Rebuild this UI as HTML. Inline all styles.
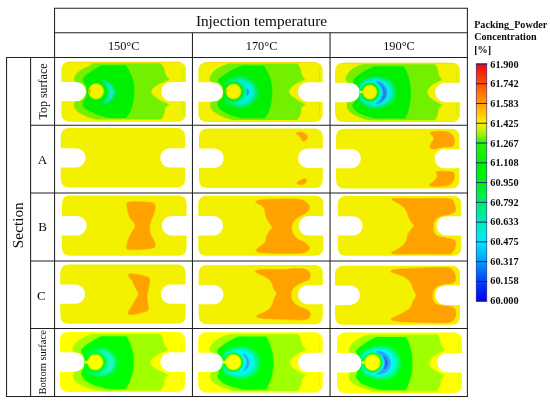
<!DOCTYPE html>
<html><head><meta charset="utf-8"><title>Packing powder concentration</title>
<style>
html,body{margin:0;padding:0;background:#fff;}
body{width:550px;height:404px;overflow:hidden;}
svg{display:block;}
text{font-family:"Liberation Serif","Times New Roman",serif;fill:#0a0a0a;}
.b{font-weight:bold;font-size:10.15px;}
</style></head><body>
<svg width="550" height="404" viewBox="0 0 550 404">
<defs>
<linearGradient id="cb" x1="0" y1="0" x2="0" y2="1">
<stop offset="0" stop-color="#f00808"/>
<stop offset="0.0833" stop-color="#ff5000"/>
<stop offset="0.1667" stop-color="#ffa000"/>
<stop offset="0.25" stop-color="#fff000"/>
<stop offset="0.29" stop-color="#b0f200"/>
<stop offset="0.3333" stop-color="#30f000"/>
<stop offset="0.4167" stop-color="#00f000"/>
<stop offset="0.5" stop-color="#00f010"/>
<stop offset="0.5833" stop-color="#00ee60"/>
<stop offset="0.6667" stop-color="#00ecb4"/>
<stop offset="0.75" stop-color="#00e8f8"/>
<stop offset="0.8333" stop-color="#00a0f8"/>
<stop offset="0.9167" stop-color="#0040f8"/>
<stop offset="1" stop-color="#0000f0"/>
</linearGradient>
<filter id="hb" x="-30%" y="-30%" width="160%" height="160%"><feGaussianBlur stdDeviation="1.5"/></filter>
<filter id="mb" x="-30%" y="-30%" width="160%" height="160%"><feGaussianBlur stdDeviation="1.0"/></filter>

<clipPath id="c11"><path d="M69.8,61.8 H177.5 Q186.0,61.8 186.0,70.3 V81.95 H170.89999999999998 A9.700000000000003,9.700000000000003 0 0 0 170.89999999999998,101.35000000000001 H186.0 V113.0 Q186.0,121.5 177.5,121.5 H69.8 Q61.3,121.5 61.3,113.0 V101.35000000000001 H76.39999999999999 A9.700000000000003,9.700000000000003 0 0 0 76.39999999999999,81.95 H61.3 V70.3 Q61.3,61.8 69.8,61.8Z"/></clipPath>
<clipPath id="l11"><rect x="56.3" y="63.20" width="134.70" height="56.40"/></clipPath>
<clipPath id="g11"><rect x="56.3" y="65.20" width="134.70" height="52.70" rx="3"/></clipPath>
<clipPath id="c12"><path d="M206.9,62.2 H314.2 Q322.7,62.2 322.7,70.7 V82.3 H307.59999999999997 A9.700000000000003,9.700000000000003 0 0 0 307.59999999999997,101.7 H322.7 V113.3 Q322.7,121.8 314.2,121.8 H206.9 Q198.4,121.8 198.4,113.3 V101.7 H213.5 A9.700000000000003,9.700000000000003 0 0 0 213.5,82.3 H198.4 V70.7 Q198.4,62.2 206.9,62.2Z"/></clipPath>
<clipPath id="l12"><rect x="193.4" y="63.60" width="134.30" height="56.30"/></clipPath>
<clipPath id="g12"><rect x="193.4" y="65.60" width="134.30" height="52.60" rx="3"/></clipPath>
<clipPath id="c13"><path d="M343.6,62.8 H451.6 Q460.1,62.8 460.1,71.3 V82.74999999999999 H445.0 A9.700000000000003,9.700000000000003 0 0 0 445.0,102.14999999999999 H460.1 V113.6 Q460.1,122.1 451.6,122.1 H343.6 Q335.1,122.1 335.1,113.6 V102.14999999999999 H350.20000000000005 A9.700000000000003,9.700000000000003 0 0 0 350.20000000000005,82.74999999999999 H335.1 V71.3 Q335.1,62.8 343.6,62.8Z"/></clipPath>
<clipPath id="l13"><rect x="330.1" y="64.20" width="135.00" height="56.00"/></clipPath>
<clipPath id="g13"><rect x="330.1" y="66.20" width="135.00" height="52.30" rx="3"/></clipPath>
<clipPath id="c51"><path d="M68.4,331.9 H176.6 Q185.1,331.9 185.1,340.4 V352.3 H169.99999999999997 A9.699999999999989,9.699999999999989 0 0 0 169.99999999999997,371.7 H185.1 V383.6 Q185.1,392.1 176.6,392.1 H68.4 Q59.9,392.1 59.9,383.6 V371.7 H75.00000000000001 A9.699999999999989,9.699999999999989 0 0 0 75.00000000000001,352.3 H59.9 V340.4 Q59.9,331.9 68.4,331.9Z"/></clipPath>
<clipPath id="l51"><rect x="54.9" y="333.90" width="135.20" height="56.60"/></clipPath>
<clipPath id="g51"><rect x="54.9" y="336.30" width="135.20" height="53.00" rx="3"/></clipPath>
<clipPath id="c52"><path d="M206.7,332.2 H314.3 Q322.8,332.2 322.8,340.7 V352.65000000000003 H307.7 A9.699999999999989,9.699999999999989 0 0 0 307.7,372.05 H322.8 V384.0 Q322.8,392.5 314.3,392.5 H206.7 Q198.2,392.5 198.2,384.0 V372.05 H213.3 A9.699999999999989,9.699999999999989 0 0 0 213.3,352.65000000000003 H198.2 V340.7 Q198.2,332.2 206.7,332.2Z"/></clipPath>
<clipPath id="l52"><rect x="193.2" y="334.20" width="134.60" height="56.70"/></clipPath>
<clipPath id="g52"><rect x="193.2" y="336.60" width="134.60" height="53.10" rx="3"/></clipPath>
<clipPath id="c53"><path d="M345.5,332.6 H453.4 Q461.9,332.6 461.9,341.1 V353.1 H446.79999999999995 A9.699999999999989,9.699999999999989 0 0 0 446.79999999999995,372.5 H461.9 V384.5 Q461.9,393.0 453.4,393.0 H345.5 Q337.0,393.0 337.0,384.5 V372.5 H352.1 A9.699999999999989,9.699999999999989 0 0 0 352.1,353.1 H337.0 V341.1 Q337.0,332.6 345.5,332.6Z"/></clipPath>
<clipPath id="l53"><rect x="332.0" y="334.60" width="134.90" height="56.80"/></clipPath>
<clipPath id="g53"><rect x="332.0" y="337.00" width="134.90" height="53.20" rx="3"/></clipPath>
<clipPath id="c21"><path d="M69.3,128.1 H176.5 Q185.0,128.1 185.0,136.6 V148.15 H169.89999999999998 A9.699999999999989,9.699999999999989 0 0 0 169.89999999999998,167.54999999999998 H185.0 V179.1 Q185.0,187.6 176.5,187.6 H69.3 Q60.8,187.6 60.8,179.1 V167.54999999999998 H75.9 A9.699999999999989,9.699999999999989 0 0 0 75.9,148.15 H60.8 V136.6 Q60.8,128.1 69.3,128.1Z"/></clipPath>
<clipPath id="c22"><path d="M207.5,128.4 H314.3 Q322.8,128.4 322.8,136.9 V148.5 H307.7 A9.699999999999989,9.699999999999989 0 0 0 307.7,167.89999999999998 H322.8 V179.5 Q322.8,188.0 314.3,188.0 H207.5 Q199.0,188.0 199.0,179.5 V167.89999999999998 H214.10000000000002 A9.699999999999989,9.699999999999989 0 0 0 214.10000000000002,148.5 H199.0 V136.9 Q199.0,128.4 207.5,128.4Z"/></clipPath>
<clipPath id="c23"><path d="M344.6,128.8 H451.0 Q459.5,128.8 459.5,137.3 V148.90000000000003 H444.4 A9.699999999999989,9.699999999999989 0 0 0 444.4,168.3 H459.5 V179.9 Q459.5,188.4 451.0,188.4 H344.6 Q336.1,188.4 336.1,179.9 V168.3 H351.20000000000005 A9.699999999999989,9.699999999999989 0 0 0 351.20000000000005,148.90000000000003 H336.1 V137.3 Q336.1,128.8 344.6,128.8Z"/></clipPath>
<clipPath id="c31"><path d="M70.4,195.6 H178.1 Q186.6,195.6 186.6,204.1 V216.0 H171.49999999999997 A9.699999999999989,9.699999999999989 0 0 0 171.49999999999997,235.39999999999998 H186.6 V247.3 Q186.6,255.8 178.1,255.8 H70.4 Q61.9,255.8 61.9,247.3 V235.39999999999998 H77.00000000000001 A9.699999999999989,9.699999999999989 0 0 0 77.00000000000001,216.0 H61.9 V204.1 Q61.9,195.6 70.4,195.6Z"/></clipPath>
<clipPath id="c32"><path d="M206.8,195.8 H314.9 Q323.4,195.8 323.4,204.3 V216.10000000000002 H308.29999999999995 A9.699999999999989,9.699999999999989 0 0 0 308.29999999999995,235.5 H323.4 V247.3 Q323.4,255.8 314.9,255.8 H206.8 Q198.3,255.8 198.3,247.3 V235.5 H213.40000000000003 A9.699999999999989,9.699999999999989 0 0 0 213.40000000000003,216.10000000000002 H198.3 V204.3 Q198.3,195.8 206.8,195.8Z"/></clipPath>
<clipPath id="c33"><path d="M346.3,196.1 H452.8 Q461.3,196.1 461.3,204.6 V216.2 H446.2 A9.699999999999989,9.699999999999989 0 0 0 446.2,235.59999999999997 H461.3 V247.2 Q461.3,255.7 452.8,255.7 H346.3 Q337.8,255.7 337.8,247.2 V235.59999999999997 H352.90000000000003 A9.699999999999989,9.699999999999989 0 0 0 352.90000000000003,216.2 H337.8 V204.6 Q337.8,196.1 346.3,196.1Z"/></clipPath>
<clipPath id="c41"><path d="M68.8,264.4 H177.1 Q185.6,264.4 185.6,272.9 V284.40000000000003 H170.49999999999997 A9.699999999999989,9.699999999999989 0 0 0 170.49999999999997,303.8 H185.6 V315.3 Q185.6,323.8 177.1,323.8 H68.8 Q60.3,323.8 60.3,315.3 V303.8 H75.4 A9.699999999999989,9.699999999999989 0 0 0 75.4,284.40000000000003 H60.3 V272.9 Q60.3,264.4 68.8,264.4Z"/></clipPath>
<clipPath id="c42"><path d="M207.2,265.0 H314.3 Q322.8,265.0 322.8,273.5 V284.90000000000003 H307.7 A9.699999999999989,9.699999999999989 0 0 0 307.7,304.3 H322.8 V315.7 Q322.8,324.2 314.3,324.2 H207.2 Q198.7,324.2 198.7,315.7 V304.3 H213.8 A9.699999999999989,9.699999999999989 0 0 0 213.8,284.90000000000003 H198.7 V273.5 Q198.7,265.0 207.2,265.0Z"/></clipPath>
<clipPath id="c43"><path d="M343.6,265.7 H451.5 Q460.0,265.7 460.0,274.2 V285.5 H444.9 A9.699999999999989,9.699999999999989 0 0 0 444.9,304.9 H460.0 V316.2 Q460.0,324.7 451.5,324.7 H343.6 Q335.1,324.7 335.1,316.2 V304.9 H350.20000000000005 A9.699999999999989,9.699999999999989 0 0 0 350.20000000000005,285.5 H335.1 V274.2 Q335.1,265.7 343.6,265.7Z"/></clipPath>
</defs>
<rect width="550" height="404" fill="#fff"/>
<g clip-path="url(#c11)">
<g>
<rect x="58.3" y="58.8" width="130.7" height="65.7" fill="#f3f000"/>
<path d="M99.4,60.0 C88.0,60.9 93.5,63.8 90.7,65.4 C87.9,66.9 85.0,67.8 82.7,69.2 C80.4,70.6 78.2,72.3 76.9,73.8 C75.5,75.3 74.8,76.9 74.6,78.4 C74.3,80.0 75.2,79.3 75.3,83.0 C75.5,86.7 75.6,97.0 75.3,100.7 C75.1,104.4 74.0,103.7 74.1,105.3 C74.2,106.8 74.9,108.5 76.1,109.9 C77.4,111.3 79.5,112.5 81.6,113.7 C83.7,114.9 86.0,116.0 88.7,117.1 C91.4,118.2 96.0,119.2 97.6,120.2 C99.2,121.1 88.0,122.5 98.4,122.9 C108.8,123.4 149.7,123.4 160.1,122.9 C170.4,122.5 159.9,121.2 160.4,120.2 C160.8,119.1 162.0,118.1 162.7,116.8 C163.3,115.5 163.8,113.7 164.2,112.2 C164.6,110.6 164.3,108.8 165.0,107.6 C165.7,106.3 167.9,105.2 168.5,104.7 C169.1,104.1 169.9,105.0 168.5,104.4 C167.1,103.7 162.9,102.1 160.4,100.7 C157.9,99.3 155.0,97.5 153.5,96.1 C151.9,94.7 151.4,93.4 151.2,92.2 C150.9,91.1 150.9,90.4 151.9,89.2 C152.9,87.9 154.9,86.0 157.3,84.6 C159.7,83.1 164.6,81.6 166.5,80.7 C168.4,79.8 168.4,79.6 168.8,79.3 C169.2,79.1 169.3,79.7 168.8,79.0 C168.3,78.4 166.6,77.2 165.7,75.3 C164.8,73.5 164.5,69.8 163.4,67.7 C162.4,65.5 160.3,63.6 159.6,62.3 C158.9,61.0 169.3,60.4 159.3,60.0 C149.3,59.6 110.9,59.1 99.4,60.0Z" fill="#73f000" stroke="#73f000" stroke-opacity="0.5" stroke-width="1.3" clip-path="url(#l11)"/>
<path d="M108.8,60.0 C106.3,60.4 108.9,61.2 107.3,62.3 C105.6,63.5 101.6,65.4 99.0,66.9 C96.4,68.4 93.9,70.0 91.6,71.5 C89.3,73.0 86.8,74.7 85.3,76.1 C83.9,77.5 83.1,78.8 83.0,80.0 C82.9,81.1 83.9,81.9 84.6,83.0 C85.2,84.2 86.5,84.6 86.9,86.9 C87.2,89.2 87.4,94.4 86.9,96.8 C86.3,99.3 84.4,100.2 83.8,101.4 C83.1,102.7 82.8,103.4 83.0,104.5 C83.3,105.7 83.7,107.1 85.3,108.3 C86.9,109.6 89.7,110.9 92.5,112.2 C95.3,113.5 98.5,114.9 102.1,116.0 C105.6,117.2 110.6,117.9 113.7,119.1 C116.8,120.2 120.0,122.3 120.6,122.9 C121.2,123.6 117.2,123.4 117.4,122.9 C117.6,122.5 120.7,120.9 122.0,120.2 C123.3,119.4 123.8,119.6 125.1,118.3 C126.3,117.0 128.4,114.7 129.7,112.2 C131.0,109.6 132.0,106.3 132.7,103.0 C133.5,99.6 133.8,95.6 134.0,92.2 C134.1,88.9 134.2,86.3 133.5,83.0 C132.8,79.7 131.3,75.7 129.7,72.3 C128.0,68.8 124.8,64.3 123.5,62.3 C122.3,60.3 124.5,60.4 122.0,60.0 C119.5,59.6 111.3,59.6 108.8,60.0Z" fill="#00f000" stroke="#00f000" stroke-opacity="0.5" stroke-width="1.3" clip-path="url(#g11)"/>
<path d="M101.2,80.4 C101.8,80.1 105.3,80.7 107.2,81.5 C109.0,82.4 111.0,83.9 112.3,85.3 C113.7,86.8 114.8,88.8 115.3,90.3 C115.7,91.8 115.7,92.9 115.3,94.4 C114.8,95.9 113.9,97.7 112.7,99.1 C111.5,100.6 110.0,102.0 108.1,102.9 C106.3,103.8 102.4,104.7 101.8,104.5 C101.1,104.3 103.4,102.7 104.2,101.7 C105.1,100.8 106.1,99.8 106.7,98.6 C107.3,97.4 107.6,96.0 107.8,94.6 C108.0,93.2 108.1,91.7 107.8,90.3 C107.5,88.8 106.9,87.1 106.2,85.9 C105.5,84.7 104.4,83.9 103.6,83.0 C102.8,82.0 100.6,80.6 101.2,80.4Z" fill="#00e68e" filter="url(#mb)"/>
<path d="M103.6,81.7 C103.9,81.5 106.6,82.5 108.0,83.3 C109.3,84.1 110.8,85.5 111.8,86.7 C112.7,87.9 113.4,89.4 113.7,90.7 C114.0,91.9 114.0,92.8 113.7,94.1 C113.3,95.3 112.6,97.1 111.5,98.3 C110.5,99.6 108.8,100.7 107.6,101.5 C106.3,102.3 104.2,103.2 104.0,102.9 C103.8,102.6 105.6,100.9 106.4,99.8 C107.1,98.6 108.0,97.5 108.4,96.2 C108.9,94.9 109.1,93.6 109.1,92.2 C109.1,90.9 108.9,89.5 108.4,88.3 C108.0,87.0 107.2,85.8 106.4,84.7 C105.6,83.6 103.3,81.9 103.6,81.7Z" fill="#14f0b4" filter="url(#mb)"/>
<path d="M88.30,91.30 a7.80,7.90 0 1 0 15.60,0 a7.80,7.90 0 1 0 -15.60,0Z" fill="#73f000" stroke="#73f000" stroke-opacity="0.5" stroke-width="1.3"/>
<path d="M89.00,91.30 a7.10,7.20 0 1 0 14.20,0 a7.10,7.20 0 1 0 -14.20,0Z" fill="#f3f000" stroke="#f3f000" stroke-opacity="0.5" stroke-width="1.3"/>
<path d="M89.00,91.10 a0.60,1.50 0 1 0 1.20,0 a0.60,1.50 0 1 0 -1.20,0Z" fill="#f09a00" stroke="#f09a00" stroke-opacity="0.5" stroke-width="1.3"/>
<rect x="182.40" y="68.80" width="0.7" height="45.70" fill="#73f000" opacity="0.45"/>
<rect x="67.3" y="61.50" width="112.70" height="0.9" fill="#ffc400"/>
<rect x="67.3" y="121.00" width="112.70" height="0.8" fill="#ffd800"/>
</g></g>
<g clip-path="url(#c12)">
<g>
<rect x="195.4" y="59.2" width="130.29999999999998" height="65.6" fill="#f3f000"/>
<path d="M234.1,60.0 C223.6,60.4 234.8,61.3 233.1,62.3 C231.3,63.3 226.4,64.6 223.6,65.8 C220.7,67.0 218.2,68.1 216.2,69.5 C214.2,71.0 212.6,73.0 211.6,74.6 C210.6,76.2 210.0,77.8 210.0,79.2 C210.0,80.6 211.3,79.4 211.6,83.0 C211.8,86.6 211.8,97.0 211.6,100.7 C211.4,104.4 210.4,103.7 210.5,105.3 C210.6,106.8 211.1,108.4 212.3,109.9 C213.6,111.3 215.6,112.7 217.9,114.0 C220.1,115.3 223.2,116.5 225.7,117.6 C228.2,118.6 231.7,119.3 233.1,120.2 C234.4,121.1 223.3,122.5 233.8,122.9 C244.4,123.4 285.8,123.4 296.3,122.9 C306.8,122.5 296.1,121.2 296.6,120.2 C297.1,119.1 298.5,118.1 299.2,116.8 C299.9,115.5 300.4,113.7 300.7,112.2 C301.1,110.6 300.6,108.8 301.2,107.6 C301.8,106.3 304.0,105.2 304.6,104.7 C305.1,104.1 305.8,105.1 304.6,104.4 C303.4,103.6 299.6,101.6 297.4,100.2 C295.1,98.8 292.6,97.4 291.2,96.1 C289.8,94.7 289.2,93.4 288.9,92.2 C288.7,91.1 288.7,90.6 289.7,89.2 C290.7,87.8 293.0,85.2 295.1,83.8 C297.1,82.4 300.4,81.5 302.0,80.7 C303.6,80.0 304.1,79.6 304.6,79.3 C305.0,79.1 305.1,79.7 304.6,79.0 C304.1,78.4 302.5,77.2 301.7,75.3 C300.8,73.5 300.5,69.8 299.7,67.7 C298.8,65.5 297.2,63.6 296.6,62.3 C296.0,61.0 306.7,60.4 296.3,60.0 C285.9,59.6 244.7,59.6 234.1,60.0Z" fill="#73f000" stroke="#73f000" stroke-opacity="0.5" stroke-width="1.3" clip-path="url(#l12)"/>
<path d="M251.9,60.0 C250.3,60.4 252.3,61.2 250.4,62.3 C248.5,63.4 243.8,65.0 240.6,66.4 C237.3,67.9 233.8,69.4 230.9,71.0 C228.0,72.7 225.2,74.6 223.1,76.1 C221.0,77.6 219.0,78.8 218.5,80.0 C218.0,81.1 219.3,81.9 220.0,83.0 C220.8,84.2 222.6,84.6 223.1,86.9 C223.6,89.2 223.7,94.5 223.1,96.8 C222.5,99.2 220.1,99.9 219.3,101.1 C218.4,102.4 217.6,103.2 217.7,104.5 C217.8,105.8 218.6,107.4 220.0,108.8 C221.4,110.2 223.6,111.7 226.2,112.9 C228.8,114.2 232.2,115.5 235.7,116.5 C239.1,117.5 243.4,118.5 246.7,119.1 C250.0,119.7 253.6,119.5 255.3,120.2 C257.0,120.8 256.5,122.5 256.9,122.9 C257.2,123.4 256.6,123.4 257.5,122.9 C258.3,122.5 260.9,120.9 262.1,120.2 C263.2,119.4 263.3,119.6 264.4,118.3 C265.4,117.0 267.1,114.7 268.2,112.2 C269.3,109.6 270.3,106.2 271.0,103.0 C271.6,99.8 272.0,96.3 272.0,93.0 C272.1,89.7 272.0,86.5 271.3,83.0 C270.5,79.6 269.1,75.7 267.4,72.3 C265.8,68.8 262.5,64.3 261.3,62.3 C260.2,60.3 262.1,60.4 260.5,60.0 C259.0,59.6 253.6,59.6 251.9,60.0Z" fill="#00f000" stroke="#00f000" stroke-opacity="0.5" stroke-width="1.3" clip-path="url(#g12)"/>
<path d="M225.9,83.4 C226.8,79.8 229.3,80.2 231.4,79.2 C233.4,78.1 235.8,77.2 238.2,77.0 C240.6,76.8 243.4,77.0 245.8,77.9 C248.2,78.7 250.8,80.5 252.6,82.1 C254.4,83.8 255.9,86.0 256.8,87.6 C257.8,89.3 258.1,90.3 258.1,91.9 C258.1,93.4 257.7,95.3 256.8,97.0 C256.0,98.7 254.7,100.6 253.0,102.1 C251.3,103.6 249.0,105.0 246.7,105.9 C244.3,106.7 241.6,107.4 239.0,107.2 C236.5,106.9 233.6,105.7 231.4,104.6 C229.2,103.6 226.8,104.3 225.9,100.8 C224.9,97.3 224.9,87.0 225.9,83.4Z" fill="#00ec8c" filter="url(#hb)"/>
<path d="M236.8,80.2 C237.2,79.8 241.0,79.9 243.0,80.5 C245.0,81.0 247.3,82.1 248.9,83.5 C250.5,84.8 251.9,87.1 252.7,88.6 C253.5,90.0 253.6,90.9 253.5,92.3 C253.5,93.7 253.1,95.5 252.3,97.0 C251.5,98.5 250.1,100.0 248.5,101.1 C247.0,102.2 244.9,103.2 243.0,103.7 C241.0,104.2 237.1,104.6 236.8,104.1 C236.5,103.6 239.6,101.7 240.9,100.6 C242.2,99.6 243.7,98.8 244.6,97.8 C245.6,96.8 246.1,95.7 246.4,94.6 C246.8,93.5 246.8,92.5 246.8,91.5 C246.7,90.4 246.5,89.2 246.0,88.2 C245.5,87.1 244.7,86.0 243.8,85.1 C242.9,84.2 241.8,83.8 240.7,83.0 C239.5,82.1 236.4,80.6 236.8,80.2Z" fill="#00f0e6" filter="url(#mb)"/>
<path d="M247.2,89.3 C247.4,89.3 248.0,90.2 248.2,90.7 C248.5,91.2 248.6,91.7 248.6,92.3 C248.6,92.8 248.5,93.4 248.2,93.9 C248.0,94.4 247.4,95.3 247.2,95.3 C247.1,95.3 247.4,94.4 247.5,93.9 C247.5,93.4 247.6,92.8 247.6,92.3 C247.6,91.7 247.5,91.2 247.5,90.7 C247.4,90.2 247.1,89.3 247.2,89.3Z" fill="#2488ee" stroke="#2488ee" stroke-opacity="0.5" stroke-width="1.3"/>
<path d="M224.10,91.50 a9.40,9.50 0 1 0 18.80,0 a9.40,9.50 0 1 0 -18.80,0Z" fill="#00f000" stroke="#00f000" stroke-opacity="0.5" stroke-width="1.3"/>
<path d="M225.80,91.50 a7.70,7.80 0 1 0 15.40,0 a7.70,7.80 0 1 0 -15.40,0Z" fill="#73f000" stroke="#73f000" stroke-opacity="0.5" stroke-width="1.3"/>
<path d="M226.50,91.50 a7.00,7.10 0 1 0 14.00,0 a7.00,7.10 0 1 0 -14.00,0Z" fill="#f3f000" stroke="#f3f000" stroke-opacity="0.5" stroke-width="1.3"/>
<path d="M226.00,91.30 a0.60,1.50 0 1 0 1.20,0 a0.60,1.50 0 1 0 -1.20,0Z" fill="#f0b400" stroke="#f0b400" stroke-opacity="0.5" stroke-width="1.3"/>
<rect x="319.10" y="69.20" width="0.7" height="45.60" fill="#73f000" opacity="0.45"/>
<rect x="204.4" y="61.90" width="112.30" height="0.9" fill="#ffc400"/>
<rect x="204.4" y="121.30" width="112.30" height="0.8" fill="#ffd800"/>
</g></g>
<g clip-path="url(#c13)">
<g>
<rect x="332.1" y="59.8" width="131.0" height="65.3" fill="#f3f000"/>
<path d="M368.8,60.0 C357.9,60.5 369.5,61.7 367.8,62.8 C366.0,63.8 361.1,64.9 358.2,66.1 C355.4,67.4 352.7,68.9 350.9,70.4 C349.0,72.0 347.9,73.8 347.0,75.3 C346.2,76.9 345.8,78.7 346.0,80.0 C346.1,81.2 347.5,79.5 347.8,83.0 C348.1,86.6 347.9,97.3 347.8,101.1 C347.7,105.0 346.8,104.5 347.0,106.0 C347.2,107.6 347.9,109.2 349.0,110.6 C350.2,112.1 352.0,113.3 354.1,114.5 C356.3,115.7 359.5,117.1 361.9,118.0 C364.3,119.0 367.3,119.3 368.5,120.2 C369.8,121.0 358.4,122.5 369.3,122.9 C380.2,123.4 423.0,123.3 433.8,122.9 C444.5,122.5 433.7,121.5 434.1,120.6 C434.5,119.7 435.6,118.8 436.2,117.6 C436.8,116.3 437.3,114.5 437.7,112.9 C438.2,111.4 438.0,109.6 438.7,108.3 C439.3,107.1 441.1,106.0 441.6,105.4 C442.1,104.9 442.8,105.8 441.6,105.1 C440.4,104.4 436.5,102.5 434.4,101.1 C432.3,99.7 430.2,98.2 429.0,96.8 C427.8,95.5 427.4,94.1 427.2,93.0 C426.9,91.8 426.6,91.3 427.5,89.9 C428.3,88.5 430.3,86.0 432.1,84.6 C433.9,83.1 436.6,82.3 438.2,81.5 C439.8,80.7 441.0,80.1 441.6,79.8 C442.1,79.5 442.1,80.2 441.6,79.5 C441.1,78.7 439.4,77.2 438.7,75.3 C437.9,73.5 438.0,70.5 437.1,68.4 C436.3,66.3 434.2,64.2 433.6,62.8 C433.0,61.4 444.1,60.5 433.3,60.0 C422.5,59.5 379.8,59.5 368.8,60.0Z" fill="#73f000" stroke="#73f000" stroke-opacity="0.5" stroke-width="1.3" clip-path="url(#l13)"/>
<path d="M384.3,60.0 C381.5,60.5 384.4,61.7 382.8,62.8 C381.2,63.8 377.4,65.1 374.5,66.4 C371.7,67.8 368.3,69.3 365.6,70.7 C363.0,72.2 360.5,73.9 358.6,75.3 C356.6,76.8 354.8,78.4 354.0,79.6 C353.1,80.9 353.5,79.4 353.6,83.0 C353.8,86.6 354.9,97.4 354.7,101.1 C354.5,104.8 352.4,103.9 352.4,105.3 C352.4,106.7 353.4,108.1 354.7,109.4 C356.0,110.8 357.6,112.2 360.1,113.4 C362.6,114.6 366.2,115.8 369.6,116.8 C373.0,117.8 377.6,118.9 380.7,119.5 C383.7,120.2 386.3,120.1 387.7,120.6 C389.1,121.2 386.8,122.5 389.2,122.9 C391.7,123.3 399.8,123.3 402.1,122.9 C404.5,122.5 403.0,121.3 403.4,120.6 C403.8,120.0 403.8,120.5 404.4,119.1 C405.1,117.7 406.6,114.9 407.5,112.2 C408.4,109.5 409.3,106.3 409.8,103.0 C410.3,99.6 410.6,95.8 410.6,92.2 C410.5,88.6 410.3,85.1 409.5,81.5 C408.7,77.9 407.5,73.9 406.0,70.7 C404.5,67.6 401.6,64.6 400.6,62.8 C399.6,61.0 402.5,60.5 399.8,60.0 C397.1,59.5 387.2,59.5 384.3,60.0Z" fill="#00f000" stroke="#00f000" stroke-opacity="0.5" stroke-width="1.3" clip-path="url(#g13)"/>
<path d="M360.1,84.6 C361.1,81.4 363.3,80.8 365.6,79.5 C368.0,78.3 371.2,77.3 374.1,77.0 C377.1,76.7 380.6,77.0 383.4,77.8 C386.3,78.7 389.2,80.3 391.1,82.1 C393.0,83.8 394.2,86.4 394.9,88.4 C395.6,90.5 395.7,92.2 395.3,94.4 C394.9,96.5 393.9,99.2 392.3,101.1 C390.8,103.1 388.5,104.7 386.0,105.8 C383.5,106.9 380.3,107.7 377.5,107.9 C374.7,108.1 371.6,107.9 369.0,107.1 C366.5,106.2 363.8,104.3 362.3,102.8 C360.7,101.4 360.1,101.6 359.7,98.6 C359.4,95.6 359.1,87.8 360.1,84.6Z" fill="#00ec8c" filter="url(#hb)"/>
<path d="M361.5,85.4 C362.4,82.7 364.5,82.2 366.6,81.1 C368.7,80.1 371.4,79.3 374.0,79.1 C376.6,78.9 379.8,79.1 382.2,79.9 C384.7,80.7 387.2,82.4 388.8,84.0 C390.4,85.6 391.2,87.5 391.7,89.4 C392.2,91.2 392.2,93.3 391.7,95.1 C391.2,97.0 390.3,99.0 388.8,100.5 C387.4,102.0 385.3,103.3 383.1,104.2 C380.9,105.1 378.0,105.8 375.6,105.8 C373.3,105.9 371.1,105.4 369.1,104.6 C367.0,103.8 364.6,102.1 363.3,100.9 C361.9,99.7 361.3,100.2 361.0,97.6 C360.7,95.0 360.5,88.2 361.5,85.4Z" fill="#00f0e6" filter="url(#mb)"/>
<path d="M376.1,81.2 C376.3,81.1 379.4,82.1 381.0,83.1 C382.5,84.2 384.3,85.9 385.3,87.5 C386.3,89.1 386.8,90.9 386.9,92.6 C387.0,94.3 386.6,96.3 385.7,97.8 C384.9,99.3 383.3,100.7 381.8,101.7 C380.2,102.8 376.8,104.0 376.4,103.9 C376.0,103.7 378.4,102.0 379.4,101.0 C380.3,99.9 381.4,98.7 382.0,97.4 C382.6,96.1 383.0,94.6 383.0,93.0 C383.0,91.4 382.6,89.4 382.0,87.9 C381.4,86.4 380.4,85.2 379.4,84.1 C378.4,83.0 375.8,81.4 376.1,81.2Z" fill="#2896ee" stroke="#2896ee" stroke-opacity="0.5" stroke-width="1.3"/>
<path d="M380.6,84.7 C380.7,84.7 383.0,87.0 383.7,88.3 C384.5,89.6 385.1,91.2 385.2,92.6 C385.2,94.1 384.9,95.6 384.2,97.0 C383.5,98.3 381.1,100.7 380.8,100.7 C380.6,100.8 382.2,98.5 382.7,97.2 C383.2,95.9 383.8,94.5 383.8,93.0 C383.8,91.5 383.4,89.7 382.9,88.3 C382.3,86.9 380.4,84.7 380.6,84.7Z" fill="#2280ec" stroke="#2280ec" stroke-opacity="0.5" stroke-width="1.3"/>
<path d="M361.00,92.10 a8.90,9.00 0 1 0 17.80,0 a8.90,9.00 0 1 0 -17.80,0Z" fill="#00f000" stroke="#00f000" stroke-opacity="0.5" stroke-width="1.3"/>
<path d="M362.70,92.10 a7.20,7.30 0 1 0 14.40,0 a7.20,7.30 0 1 0 -14.40,0Z" fill="#73f000" stroke="#73f000" stroke-opacity="0.5" stroke-width="1.3"/>
<path d="M363.40,92.10 a6.50,6.60 0 1 0 13.00,0 a6.50,6.60 0 1 0 -13.00,0Z" fill="#f3f000" stroke="#f3f000" stroke-opacity="0.5" stroke-width="1.3"/>
<path d="M359.00,92.10 a2.60,1.00 0 1 0 5.20,0 a2.60,1.00 0 1 0 -5.20,0Z" fill="#f3f000" stroke="#f3f000" stroke-opacity="0.5" stroke-width="1.3"/>
<rect x="456.50" y="69.80" width="0.7" height="45.30" fill="#73f000" opacity="0.45"/>
<rect x="341.1" y="62.50" width="113.00" height="0.9" fill="#ffc400"/>
<rect x="341.1" y="121.60" width="113.00" height="0.8" fill="#ffd800"/>
</g></g>
<g clip-path="url(#c51)">
<g>
<rect x="56.9" y="328.9" width="131.2" height="66.20000000000005" fill="#ffff00"/>
<path d="M96.9,330.0 C86.4,330.5 97.6,331.7 95.8,332.8 C94.1,333.8 89.1,335.2 86.3,336.4 C83.5,337.7 80.9,339.0 79.0,340.4 C77.0,341.9 75.4,343.8 74.3,345.3 C73.3,346.9 72.8,348.7 72.8,350.0 C72.8,351.2 74.1,349.5 74.3,353.0 C74.6,356.6 74.6,367.3 74.3,371.1 C74.1,375.0 73.0,374.5 73.1,376.0 C73.2,377.6 73.9,379.2 75.1,380.6 C76.4,382.1 78.4,383.3 80.6,384.5 C82.9,385.7 85.9,387.1 88.5,388.0 C91.0,389.0 94.5,389.3 95.8,390.2 C97.2,391.0 86.0,392.5 96.6,392.9 C107.2,393.4 149.1,393.3 159.7,392.9 C170.3,392.5 159.7,391.5 160.1,390.6 C160.5,389.7 161.5,388.8 162.1,387.6 C162.7,386.3 163.3,384.6 163.7,382.9 C164.0,381.3 163.6,379.2 164.3,377.9 C164.9,376.6 167.1,375.5 167.7,375.0 C168.2,374.4 169.0,375.3 167.7,374.7 C166.3,374.0 161.9,372.4 159.4,371.1 C156.8,369.8 154.0,368.2 152.5,366.8 C150.9,365.5 150.4,364.1 150.2,363.0 C149.9,361.8 149.8,361.3 150.9,359.9 C152.1,358.5 154.8,356.0 157.1,354.6 C159.4,353.1 163.0,352.0 164.7,351.2 C166.5,350.4 167.2,350.1 167.7,349.8 C168.1,349.5 168.2,350.2 167.7,349.5 C167.1,348.7 165.1,347.2 164.3,345.3 C163.4,343.5 163.3,340.5 162.4,338.4 C161.6,336.3 159.9,334.2 159.4,332.8 C158.8,331.4 169.5,330.5 159.1,330.0 C148.7,329.5 107.4,329.5 96.9,330.0Z" fill="#a0ff00" stroke="#a0ff00" stroke-opacity="0.5" stroke-width="1.3" clip-path="url(#l51)"/>
<path d="M110.1,330.0 C107.6,330.5 110.2,331.6 108.6,332.8 C106.9,333.9 103.1,335.4 100.3,336.9 C97.4,338.4 94.0,340.3 91.4,342.0 C88.7,343.6 86.0,345.4 84.3,346.9 C82.6,348.3 81.6,349.7 81.3,350.7 C80.9,351.7 81.5,352.0 82.0,353.0 C82.5,354.0 83.9,354.4 84.3,356.9 C84.7,359.3 84.7,365.2 84.3,367.6 C83.9,370.0 82.5,370.2 82.0,371.4 C81.6,372.6 81.3,373.6 81.7,374.8 C82.1,376.0 83.0,377.4 84.3,378.8 C85.7,380.2 87.2,381.7 89.7,382.9 C92.2,384.2 95.7,385.4 99.2,386.5 C102.8,387.6 108.3,388.9 111.0,389.5 C113.8,390.2 114.7,389.6 115.8,390.2 C116.8,390.7 116.4,392.5 117.3,392.9 C118.2,393.4 120.1,393.3 121.0,392.9 C121.9,392.5 121.9,391.3 122.5,390.6 C123.2,390.0 123.8,390.4 124.8,389.1 C125.9,387.8 127.5,385.5 128.7,382.9 C129.9,380.4 131.3,377.1 132.0,373.7 C132.8,370.4 133.2,366.4 133.3,363.0 C133.4,359.5 133.1,356.5 132.5,353.0 C131.9,349.6 130.8,345.7 129.4,342.3 C128.0,338.9 125.1,334.8 124.1,332.8 C123.0,330.7 125.6,330.5 123.3,330.0 C121.0,329.5 112.6,329.5 110.1,330.0Z" fill="#00ff00" stroke="#00ff00" stroke-opacity="0.5" stroke-width="1.3" clip-path="url(#g51)"/>
<path d="M86.4,355.9 C87.1,352.7 89.3,352.0 91.5,350.8 C93.7,349.5 96.8,348.6 99.4,348.4 C102.1,348.2 105.0,348.6 107.3,349.6 C109.7,350.5 112.1,352.2 113.7,353.9 C115.3,355.6 116.3,358.0 116.9,359.9 C117.4,361.7 117.3,363.2 116.9,365.0 C116.4,366.9 115.5,369.3 114.1,371.0 C112.6,372.6 110.4,374.0 108.1,374.9 C105.8,375.8 102.9,376.6 100.2,376.5 C97.6,376.4 94.5,375.6 92.3,374.5 C90.1,373.4 87.7,372.9 86.8,369.8 C85.8,366.7 85.6,359.1 86.4,355.9Z" fill="#00f878" filter="url(#hb)"/>
<path d="M98.6,350.1 C99.3,349.9 103.6,350.1 105.8,350.9 C107.9,351.7 110.0,353.4 111.5,355.0 C112.9,356.5 113.8,358.6 114.3,360.3 C114.8,361.9 114.7,363.2 114.3,364.8 C113.9,366.4 113.1,368.5 111.9,369.9 C110.6,371.4 108.7,372.8 106.6,373.6 C104.6,374.4 100.0,375.1 99.4,374.8 C98.8,374.4 101.9,372.5 103.0,371.3 C104.1,370.2 105.3,369.1 106.0,367.8 C106.7,366.5 107.1,364.9 107.2,363.4 C107.3,362.0 107.2,360.5 106.8,359.1 C106.4,357.7 105.6,356.2 104.8,355.1 C104.0,354.0 102.8,353.3 101.8,352.5 C100.8,351.7 98.0,350.4 98.6,350.1Z" fill="#1efabe" filter="url(#mb)"/>
<path d="M85.80,362.20 a9.50,9.50 0 1 0 19.00,0 a9.50,9.50 0 1 0 -19.00,0Z" fill="#00ff00" stroke="#00ff00" stroke-opacity="0.5" stroke-width="1.3"/>
<path d="M87.50,362.20 a7.80,7.80 0 1 0 15.60,0 a7.80,7.80 0 1 0 -15.60,0Z" fill="#a0ff00" stroke="#a0ff00" stroke-opacity="0.5" stroke-width="1.3"/>
<path d="M88.20,362.20 a7.10,7.10 0 1 0 14.20,0 a7.10,7.10 0 1 0 -14.20,0Z" fill="#ffff00" stroke="#ffff00" stroke-opacity="0.5" stroke-width="1.3"/>
<path d="M83.80,362.20 a2.60,1.00 0 1 0 5.20,0 a2.60,1.00 0 1 0 -5.20,0Z" fill="#ffff00" stroke="#ffff00" stroke-opacity="0.5" stroke-width="1.3"/>
<rect x="181.50" y="338.90" width="0.7" height="46.20" fill="#a0ff00" opacity="0.45"/>
</g></g>
<g clip-path="url(#c52)">
<g>
<rect x="195.2" y="329.2" width="130.60000000000002" height="66.30000000000001" fill="#ffff00"/>
<path d="M233.1,330.0 C222.3,330.5 233.8,331.9 232.1,333.1 C230.3,334.2 225.4,335.6 222.6,336.9 C219.7,338.2 217.1,339.5 215.2,341.0 C213.3,342.6 211.9,344.6 211.0,346.1 C210.1,347.6 209.8,349.1 209.8,350.3 C209.9,351.4 211.1,349.4 211.3,353.0 C211.6,356.6 211.6,367.9 211.3,371.7 C211.1,375.6 210.0,374.8 210.1,376.3 C210.2,377.9 210.9,379.5 212.1,381.0 C213.4,382.4 215.4,383.7 217.6,384.9 C219.9,386.2 222.9,387.4 225.5,388.3 C228.0,389.2 231.5,389.4 232.8,390.2 C234.2,390.9 222.9,392.5 233.6,392.9 C244.3,393.4 286.5,393.3 297.1,392.9 C307.8,392.5 297.2,391.5 297.6,390.6 C298.0,389.7 299.1,388.8 299.7,387.6 C300.4,386.3 300.9,384.5 301.3,382.9 C301.7,381.4 301.5,379.6 302.2,378.3 C302.9,377.1 304.9,376.0 305.4,375.4 C306.0,374.9 306.8,375.8 305.4,375.1 C304.0,374.4 299.5,372.5 297.1,371.1 C294.8,369.7 292.7,368.2 291.5,366.8 C290.2,365.5 289.7,364.1 289.5,363.0 C289.3,361.8 289.2,361.3 290.2,359.9 C291.3,358.5 293.6,356.0 295.6,354.6 C297.6,353.1 300.9,352.2 302.5,351.5 C304.1,350.7 304.9,350.4 305.4,350.1 C305.9,349.8 306.0,350.6 305.4,349.8 C304.9,349.0 303.1,347.2 302.2,345.3 C301.3,343.5 301.0,340.5 300.2,338.4 C299.4,336.4 297.7,334.5 297.1,333.1 C296.6,331.7 307.5,330.5 296.8,330.0 C286.2,329.5 243.9,329.5 233.1,330.0Z" fill="#a0ff00" stroke="#a0ff00" stroke-opacity="0.5" stroke-width="1.3" clip-path="url(#l52)"/>
<path d="M246.3,330.0 C243.2,330.5 246.4,331.8 244.8,333.1 C243.2,334.3 239.4,335.8 236.5,337.4 C233.7,338.9 230.3,340.6 227.6,342.3 C225.0,343.9 222.3,345.8 220.6,347.2 C218.8,348.6 217.6,349.7 217.2,350.7 C216.8,351.7 217.9,349.5 218.3,353.0 C218.6,356.5 219.1,368.0 219.0,371.7 C218.9,375.5 217.5,374.0 217.5,375.3 C217.5,376.5 217.9,377.8 219.0,379.1 C220.2,380.5 221.9,382.1 224.4,383.4 C226.9,384.7 230.4,386.0 233.9,387.1 C237.5,388.2 242.8,389.3 245.7,389.9 C248.6,390.4 250.1,390.1 251.2,390.6 C252.4,391.1 250.6,392.5 252.8,392.9 C254.9,393.3 262.0,393.4 264.1,392.9 C266.3,392.4 264.9,391.5 265.7,389.9 C266.5,388.2 268.0,385.6 269.0,382.9 C270.1,380.3 271.5,377.1 272.1,373.7 C272.8,370.4 273.0,366.4 273.0,363.0 C273.0,359.5 272.8,356.5 272.1,353.0 C271.4,349.6 270.1,345.6 268.7,342.3 C267.4,339.0 265.0,335.1 264.1,333.1 C263.2,331.0 266.3,330.5 263.4,330.0 C260.4,329.5 249.4,329.5 246.3,330.0Z" fill="#00ff00" stroke="#00ff00" stroke-opacity="0.5" stroke-width="1.3" clip-path="url(#g52)"/>
<path d="M222.9,355.9 C223.7,352.4 225.9,351.9 228.4,350.4 C230.9,348.9 234.5,347.4 237.7,347.0 C241.0,346.6 244.9,346.9 247.9,347.8 C250.9,348.8 253.6,350.6 255.5,352.5 C257.4,354.4 258.7,357.0 259.3,359.3 C260.0,361.5 259.9,363.9 259.3,366.1 C258.8,368.2 257.7,370.6 255.9,372.4 C254.2,374.2 251.5,376.1 248.7,377.1 C246.0,378.1 242.5,378.5 239.4,378.3 C236.3,378.2 232.7,377.4 230.1,376.2 C227.5,375.0 224.9,374.5 223.7,371.1 C222.5,367.7 222.1,359.3 222.9,355.9Z" fill="#00f88c" filter="url(#hb)"/>
<path d="M224.8,355.2 C225.7,352.2 228.0,352.5 230.2,351.5 C232.3,350.5 235.0,349.6 237.6,349.3 C240.2,349.0 243.4,349.1 245.8,349.9 C248.2,350.7 250.5,352.4 252.0,354.0 C253.5,355.6 254.4,357.9 254.9,359.8 C255.4,361.6 255.4,363.3 254.9,365.1 C254.4,367.0 253.5,369.3 252.0,370.9 C250.5,372.5 248.2,373.8 245.8,374.6 C243.5,375.4 240.6,376.0 238.0,375.8 C235.4,375.7 232.4,374.8 230.2,373.8 C228.0,372.7 225.7,372.7 224.8,369.7 C223.9,366.6 223.9,358.3 224.8,355.2Z" fill="#00faf0" filter="url(#mb)"/>
<path d="M243.6,353.8 C244.1,354.1 246.5,356.1 247.3,357.5 C248.2,358.9 248.8,360.7 248.8,362.2 C248.9,363.8 248.6,365.6 247.8,367.0 C247.0,368.4 244.4,370.5 244.0,370.7 C243.6,370.9 244.7,369.1 245.2,368.2 C245.6,367.2 246.4,366.0 246.7,365.0 C247.0,364.0 247.1,363.3 247.0,362.2 C246.9,361.2 246.7,359.8 246.2,358.7 C245.7,357.5 244.6,356.1 244.2,355.3 C243.7,354.4 243.1,353.4 243.6,353.8Z" fill="#32a0f5" stroke="#32a0f5" stroke-opacity="0.5" stroke-width="1.3"/>
<path d="M223.80,362.20 a9.50,9.50 0 1 0 19.00,0 a9.50,9.50 0 1 0 -19.00,0Z" fill="#00ff00" stroke="#00ff00" stroke-opacity="0.5" stroke-width="1.3"/>
<path d="M225.50,362.20 a7.80,7.80 0 1 0 15.60,0 a7.80,7.80 0 1 0 -15.60,0Z" fill="#a0ff00" stroke="#a0ff00" stroke-opacity="0.5" stroke-width="1.3"/>
<path d="M226.20,362.20 a7.10,7.10 0 1 0 14.20,0 a7.10,7.10 0 1 0 -14.20,0Z" fill="#ffff00" stroke="#ffff00" stroke-opacity="0.5" stroke-width="1.3"/>
<path d="M222.10,362.20 a2.60,1.00 0 1 0 5.20,0 a2.60,1.00 0 1 0 -5.20,0Z" fill="#ffff00" stroke="#ffff00" stroke-opacity="0.5" stroke-width="1.3"/>
<rect x="319.20" y="339.20" width="0.7" height="46.30" fill="#a0ff00" opacity="0.45"/>
</g></g>
<g clip-path="url(#c53)">
<g>
<rect x="334.0" y="329.6" width="130.89999999999998" height="66.39999999999998" fill="#ffff00"/>
<path d="M373.2,330.0 C362.6,330.5 373.9,331.9 372.1,333.1 C370.4,334.2 365.4,335.6 362.6,336.9 C359.8,338.2 357.2,339.5 355.3,341.0 C353.3,342.6 351.7,344.5 350.6,346.1 C349.6,347.7 349.2,349.5 349.1,350.7 C349.0,351.9 350.0,349.7 350.2,353.3 C350.4,356.9 350.4,368.3 350.2,372.2 C350.0,376.1 349.0,375.3 349.1,376.8 C349.3,378.3 349.8,380.0 351.1,381.4 C352.4,382.8 354.7,384.0 356.9,385.2 C359.2,386.5 362.2,387.7 364.8,388.6 C367.3,389.5 370.8,389.9 372.1,390.6 C373.5,391.4 362.2,392.8 372.9,393.2 C383.6,393.7 425.6,393.6 436.2,393.2 C446.8,392.9 436.3,392.0 436.7,391.1 C437.1,390.2 438.1,389.3 438.7,388.0 C439.3,386.7 439.8,384.9 440.2,383.4 C440.6,381.9 440.1,380.1 440.8,378.8 C441.5,377.5 443.6,376.4 444.2,375.9 C444.8,375.3 445.5,376.3 444.2,375.6 C442.9,374.8 438.4,372.8 436.2,371.4 C434.0,370.1 432.2,368.9 431.0,367.6 C429.8,366.3 429.3,364.9 429.0,363.8 C428.7,362.6 428.6,362.1 429.5,360.7 C430.4,359.3 432.4,356.8 434.4,355.3 C436.3,353.8 439.6,352.7 441.3,351.8 C442.9,350.9 443.7,350.4 444.2,350.1 C444.7,349.8 444.8,350.6 444.2,349.8 C443.6,349.0 441.6,347.2 440.8,345.3 C440.0,343.5 440.0,340.5 439.3,338.4 C438.5,336.4 436.8,334.5 436.2,333.1 C435.6,331.7 446.4,330.5 435.9,330.0 C425.4,329.5 383.8,329.5 373.2,330.0Z" fill="#a0ff00" stroke="#a0ff00" stroke-opacity="0.5" stroke-width="1.3" clip-path="url(#l53)"/>
<path d="M384.9,330.0 C381.6,330.5 384.8,331.8 383.3,333.1 C381.8,334.3 378.6,335.8 375.8,337.4 C373.1,338.9 369.6,340.6 366.9,342.3 C364.3,343.9 361.7,345.7 359.9,347.2 C358.0,348.7 356.5,350.2 356.0,351.2 C355.5,352.2 356.5,349.8 356.8,353.3 C357.0,356.8 357.7,368.5 357.6,372.2 C357.4,375.9 356.0,374.5 356.0,375.7 C356.0,376.9 356.4,378.1 357.6,379.4 C358.7,380.7 360.4,382.4 362.9,383.7 C365.4,385.0 368.9,386.3 372.4,387.4 C376.0,388.5 381.4,389.6 384.3,390.2 C387.1,390.7 388.6,390.4 389.8,390.9 C391.0,391.4 389.0,392.8 391.3,393.2 C393.6,393.6 401.4,393.7 403.7,393.2 C406.0,392.8 404.4,392.3 405.2,390.6 C406.0,388.9 407.6,385.8 408.6,382.9 C409.6,380.1 410.8,377.1 411.3,373.7 C411.9,370.4 412.1,366.4 412.1,363.0 C412.1,359.5 412.0,356.5 411.3,353.0 C410.7,349.6 409.6,345.6 408.3,342.3 C407.0,339.0 404.6,335.1 403.7,333.1 C402.8,331.0 406.0,330.5 402.9,330.0 C399.8,329.5 388.1,329.5 384.9,330.0Z" fill="#00ff00" stroke="#00ff00" stroke-opacity="0.5" stroke-width="1.3" clip-path="url(#g53)"/>
<path d="M361.0,355.9 C361.7,352.3 364.1,351.9 366.5,350.4 C369.0,348.8 372.5,347.2 375.9,346.5 C379.2,345.9 383.6,345.8 386.9,346.5 C390.1,347.3 393.2,349.2 395.3,351.2 C397.5,353.2 398.8,355.9 399.6,358.4 C400.4,360.9 400.5,363.6 400.0,366.0 C399.5,368.5 398.4,371.3 396.6,373.2 C394.9,375.2 392.3,376.9 389.4,377.9 C386.5,378.9 382.6,379.4 379.2,379.2 C375.9,379.0 371.9,377.9 369.1,376.6 C366.2,375.4 363.6,375.0 362.3,371.5 C361.0,368.1 360.3,359.4 361.0,355.9Z" fill="#00f88c" filter="url(#hb)"/>
<path d="M363.0,355.2 C363.8,352.1 366.1,352.2 368.3,351.1 C370.5,350.0 373.4,349.0 376.2,348.6 C379.0,348.3 382.6,348.3 385.2,349.0 C387.9,349.8 390.5,351.4 392.2,353.2 C394.0,354.9 395.0,357.2 395.5,359.3 C396.1,361.5 396.0,363.9 395.5,365.9 C395.0,368.0 394.2,370.1 392.6,371.7 C391.1,373.3 388.6,374.8 386.1,375.7 C383.5,376.5 380.2,376.9 377.4,376.6 C374.6,376.4 371.5,375.3 369.2,374.2 C366.8,373.1 364.4,373.2 363.4,370.1 C362.4,366.9 362.2,358.4 363.0,355.2Z" fill="#00faf0" filter="url(#mb)"/>
<path d="M376.6,351.4 C377.0,351.1 380.9,351.5 382.8,352.3 C384.7,353.2 386.7,354.7 387.9,356.3 C389.2,357.9 390.0,360.0 390.3,361.8 C390.6,363.7 390.3,365.7 389.5,367.4 C388.7,369.1 387.2,371.0 385.5,372.1 C383.9,373.3 381.1,373.9 379.6,374.2 C378.1,374.5 376.5,374.4 376.6,374.0 C376.7,373.6 379.3,372.8 380.4,371.7 C381.5,370.7 382.7,369.2 383.4,367.8 C384.1,366.3 384.6,364.7 384.6,363.0 C384.6,361.4 384.1,359.4 383.4,357.9 C382.7,356.4 381.5,355.2 380.4,354.1 C379.3,353.0 376.2,351.7 376.6,351.4Z" fill="#32a0f5" stroke="#32a0f5" stroke-opacity="0.5" stroke-width="1.3"/>
<path d="M384.2,356.9 C384.4,357.0 386.1,359.2 386.6,360.3 C387.1,361.3 387.2,362.0 387.2,363.0 C387.2,364.0 386.9,365.2 386.4,366.2 C385.9,367.1 384.5,368.8 384.3,368.7 C384.2,368.7 385.2,366.8 385.5,365.8 C385.7,364.9 385.9,364.0 385.9,363.0 C385.8,362.0 385.6,360.9 385.3,359.9 C385.0,358.8 384.0,356.9 384.2,356.9Z" fill="#1e5af0" stroke="#1e5af0" stroke-opacity="0.5" stroke-width="1.3"/>
<path d="M362.90,362.50 a9.60,9.70 0 1 0 19.20,0 a9.60,9.70 0 1 0 -19.20,0Z" fill="#00ff00" stroke="#00ff00" stroke-opacity="0.5" stroke-width="1.3"/>
<path d="M364.60,362.50 a7.90,8.00 0 1 0 15.80,0 a7.90,8.00 0 1 0 -15.80,0Z" fill="#a0ff00" stroke="#a0ff00" stroke-opacity="0.5" stroke-width="1.3"/>
<path d="M365.30,362.50 a7.20,7.30 0 1 0 14.40,0 a7.20,7.30 0 1 0 -14.40,0Z" fill="#ffff00" stroke="#ffff00" stroke-opacity="0.5" stroke-width="1.3"/>
<path d="M360.90,362.50 a2.60,1.00 0 1 0 5.20,0 a2.60,1.00 0 1 0 -5.20,0Z" fill="#ffff00" stroke="#ffff00" stroke-opacity="0.5" stroke-width="1.3"/>
<rect x="458.30" y="339.60" width="0.7" height="46.40" fill="#a0ff00" opacity="0.45"/>
</g></g>
<g clip-path="url(#c21)">
<g>
<rect x="57.8" y="125.1" width="130.2" height="65.5" fill="#f3f000"/>
</g></g>
<g clip-path="url(#c22)">
<g>
<rect x="196.0" y="125.4" width="129.8" height="65.6" fill="#f3f000"/>
<path d="M296.3,133.4 C296.5,132.9 298.5,132.1 299.7,132.1 C301.0,132.0 302.7,132.5 303.9,133.1 C305.1,133.6 306.4,134.5 307.0,135.4 C307.5,136.3 307.4,137.5 307.0,138.5 C306.5,139.4 305.0,140.7 304.3,141.0 C303.5,141.3 302.9,141.0 302.2,140.5 C301.6,139.9 301.2,138.5 300.6,137.6 C299.9,136.7 299.2,135.8 298.5,135.1 C297.8,134.4 296.2,133.9 296.3,133.4Z" fill="#ffa200" stroke="#ffa200" stroke-opacity="0.5" stroke-width="1.3"/>
<path d="M296.9,183.1 C297.0,182.5 298.5,181.6 299.7,180.9 C300.9,180.2 302.8,179.1 303.9,178.9 C305.0,178.7 306.1,179.2 306.4,179.7 C306.8,180.3 306.5,181.5 305.9,182.2 C305.4,183.0 304.3,183.9 303.1,184.3 C301.9,184.6 299.9,184.5 298.9,184.3 C297.8,184.1 296.7,183.6 296.9,183.1Z" fill="#ffa200" stroke="#ffa200" stroke-opacity="0.5" stroke-width="1.3"/>
</g></g>
<g clip-path="url(#c23)">
<g>
<rect x="333.1" y="125.80000000000001" width="129.39999999999998" height="65.6" fill="#f3f000"/>
<path d="M430.1,133.1 C430.3,132.4 431.8,132.0 433.8,131.7 C435.8,131.5 439.9,131.3 442.2,131.4 C444.6,131.5 446.4,131.5 448.1,132.1 C449.8,132.7 451.3,133.8 452.3,135.1 C453.4,136.4 454.1,138.6 454.4,140.2 C454.6,141.7 454.5,143.3 454.0,144.4 C453.5,145.4 453.2,146.1 451.5,146.5 C449.8,147.0 446.3,146.6 443.9,146.9 C441.5,147.2 439.0,147.9 437.2,148.2 C435.4,148.6 434.2,149.1 433.0,148.9 C431.8,148.7 430.4,148.2 430.1,147.2 C429.8,146.3 430.7,144.5 431.3,143.2 C431.9,141.9 433.5,140.5 433.8,139.3 C434.1,138.1 433.6,137.0 433.0,135.9 C432.4,134.9 430.0,133.8 430.1,133.1Z" fill="#ffa200" stroke="#ffa200" stroke-opacity="0.5" stroke-width="1.3"/>
<path d="M436.3,171.8 C437.1,171.2 439.9,171.3 442.2,171.3 C444.6,171.3 448.7,171.5 450.7,171.8 C452.6,172.1 453.4,172.1 454.0,173.0 C454.6,173.9 454.6,175.6 454.4,177.2 C454.1,178.7 453.4,180.9 452.3,182.2 C451.3,183.6 450.1,184.7 448.1,185.3 C446.2,185.9 443.1,185.7 440.6,185.9 C438.0,186.1 434.8,186.6 433.0,186.4 C431.2,186.3 429.6,185.5 429.6,184.8 C429.6,184.1 431.9,183.3 433.0,182.2 C434.1,181.2 435.6,179.7 436.3,178.5 C437.1,177.4 437.5,176.3 437.5,175.2 C437.5,174.0 435.6,172.4 436.3,171.8Z" fill="#ffa200" stroke="#ffa200" stroke-opacity="0.5" stroke-width="1.3"/>
</g></g>
<g clip-path="url(#c31)">
<g>
<rect x="58.9" y="192.6" width="130.7" height="66.20000000000002" fill="#f3f000"/>
<path d="M126.9,203.4 C127.4,202.5 128.3,202.0 130.3,201.8 C132.2,201.5 135.6,201.7 138.7,201.8 C141.8,201.8 146.2,202.0 148.8,202.3 C151.3,202.5 152.8,202.6 153.8,203.4 C154.9,204.3 155.2,205.7 155.2,207.3 C155.2,208.9 154.5,211.1 153.8,213.2 C153.2,215.3 152.0,217.7 151.3,219.9 C150.6,222.2 149.8,224.4 149.6,226.7 C149.4,228.9 149.6,231.3 150.1,233.4 C150.7,235.5 152.1,237.5 153.0,239.3 C153.8,241.1 155.0,243.0 155.2,244.3 C155.4,245.7 155.1,246.5 154.2,247.2 C153.2,247.9 152.2,248.2 149.6,248.6 C147.0,248.9 142.2,249.3 138.7,249.4 C135.2,249.5 130.6,249.8 128.6,249.4 C126.5,249.0 126.7,248.5 126.5,247.2 C126.4,245.9 127.2,243.7 127.7,241.8 C128.3,239.9 129.1,237.8 129.9,235.9 C130.8,234.1 131.9,232.4 132.8,230.9 C133.7,229.3 135.1,228.1 135.3,226.7 C135.5,225.3 134.8,223.9 134.0,222.5 C133.1,221.1 131.2,219.9 130.3,218.3 C129.3,216.6 128.7,214.2 128.2,212.4 C127.7,210.5 127.4,208.8 127.2,207.3 C127.0,205.8 126.4,204.4 126.9,203.4Z" fill="#ffa200" stroke="#ffa200" stroke-opacity="0.5" stroke-width="1.3"/>
</g></g>
<g clip-path="url(#c32)">
<g>
<rect x="195.3" y="192.8" width="131.09999999999997" height="66.0" fill="#f3f000"/>
<path d="M255.9,201.8 C256.4,201.2 257.8,200.5 260.2,200.1 C262.5,199.7 265.8,199.6 270.3,199.4 C274.7,199.2 282.3,198.9 287.1,198.9 C291.9,198.9 295.9,199.0 298.9,199.4 C301.8,199.8 303.1,200.5 304.8,201.4 C306.4,202.4 307.9,203.9 308.6,205.1 C309.3,206.4 309.3,207.8 309.0,209.0 C308.6,210.2 307.9,211.2 306.4,212.4 C305.0,213.5 302.4,214.6 300.6,215.7 C298.7,216.8 296.9,217.7 295.5,219.1 C294.1,220.5 292.8,222.3 292.1,224.1 C291.5,226.0 291.5,228.2 291.8,230.0 C292.1,231.9 292.8,233.5 293.8,235.1 C294.9,236.6 296.2,238.0 298.0,239.3 C299.9,240.6 303.0,241.5 304.8,242.7 C306.5,243.8 307.9,244.9 308.6,246.0 C309.3,247.2 309.5,248.4 309.0,249.4 C308.5,250.4 307.3,251.3 305.6,251.9 C303.9,252.6 303.4,253.0 298.9,253.3 C294.4,253.5 284.8,253.4 278.7,253.3 C272.5,253.2 265.5,253.1 261.8,252.8 C258.1,252.4 257.1,251.8 256.4,251.1 C255.7,250.4 256.7,249.5 257.6,248.6 C258.5,247.6 260.5,246.6 261.8,245.5 C263.2,244.4 264.8,243.2 265.5,241.8 C266.3,240.4 266.0,238.7 266.5,237.1 C267.1,235.6 267.6,234.2 268.6,232.6 C269.5,231.0 272.0,228.9 272.3,227.5 C272.6,226.1 271.0,225.4 270.3,224.1 C269.5,222.9 268.5,221.5 267.7,219.9 C266.9,218.4 266.0,216.6 265.5,214.9 C265.1,213.2 265.5,211.4 264.9,209.8 C264.2,208.3 263.1,206.7 261.8,205.6 C260.5,204.5 258.1,203.7 257.1,203.1 C256.1,202.5 255.4,202.3 255.9,201.8Z" fill="#ffa200" stroke="#ffa200" stroke-opacity="0.5" stroke-width="1.3"/>
</g></g>
<g clip-path="url(#c33)">
<g>
<rect x="334.8" y="193.1" width="129.5" height="65.6" fill="#f3f000"/>
<path d="M392.1,199.4 C392.1,198.9 390.7,198.7 395.1,198.6 C399.5,198.4 409.8,198.6 418.7,198.6 C427.5,198.6 442.2,197.8 448.1,198.6 C454.0,199.3 452.8,201.2 454.0,203.1 C455.2,205.0 455.7,208.1 455.4,209.8 C455.1,211.6 454.5,212.6 452.3,213.5 C450.2,214.5 444.9,214.9 442.2,215.7 C439.6,216.5 437.8,216.8 436.3,218.3 C434.9,219.7 433.9,221.9 433.5,224.1 C433.1,226.4 433.2,229.8 433.8,231.7 C434.4,233.7 435.5,234.9 437.2,235.9 C438.9,236.9 441.4,237.1 443.9,237.6 C446.4,238.2 450.4,238.6 452.3,239.3 C454.2,240.0 454.9,240.3 455.4,241.8 C455.8,243.4 455.5,246.7 454.9,248.6 C454.2,250.4 452.6,251.9 451.5,252.8 C450.4,253.7 453.6,253.7 448.1,253.9 C442.7,254.1 427.5,253.9 418.7,253.9 C409.8,253.9 399.5,254.2 395.1,253.9 C390.7,253.7 391.6,253.0 392.1,252.3 C392.5,251.5 395.7,250.6 397.6,249.4 C399.5,248.2 402.0,246.7 403.5,245.2 C405.1,243.6 406.2,241.8 406.9,240.1 C407.6,238.5 407.2,236.6 407.7,235.1 C408.3,233.5 409.2,232.4 410.3,230.9 C411.3,229.3 413.8,227.4 414.0,225.8 C414.1,224.3 412.0,223.2 411.1,221.6 C410.2,220.1 409.4,218.5 408.6,216.6 C407.7,214.6 407.3,211.8 406.0,209.8 C404.8,207.9 402.8,206.2 401.0,204.8 C399.2,203.4 396.6,202.3 395.1,201.4 C393.6,200.5 392.1,199.9 392.1,199.4Z" fill="#ffa200" stroke="#ffa200" stroke-opacity="0.5" stroke-width="1.3"/>
</g></g>
<g clip-path="url(#c41)">
<g>
<rect x="57.3" y="261.4" width="131.3" height="65.40000000000003" fill="#f3f000"/>
<path d="M128.2,275.3 C128.4,274.6 129.6,273.9 131.1,273.8 C132.6,273.7 134.7,274.1 137.0,274.5 C139.2,274.9 142.5,275.5 144.6,276.2 C146.6,276.8 148.3,277.2 149.1,278.2 C149.9,279.2 149.7,280.4 149.6,282.0 C149.5,283.7 148.9,285.8 148.4,287.9 C148.0,290.0 147.3,292.4 147.1,294.7 C146.9,296.9 147.2,299.3 147.4,301.4 C147.6,303.5 148.5,305.8 148.4,307.3 C148.4,308.8 148.2,309.8 147.1,310.7 C146.0,311.5 144.0,311.8 142.0,312.3 C140.1,312.9 137.3,313.7 135.3,314.0 C133.3,314.4 131.4,314.7 130.3,314.5 C129.1,314.3 128.2,313.8 128.2,312.9 C128.2,311.9 129.4,310.5 130.3,309.0 C131.1,307.5 132.3,305.6 133.3,303.9 C134.3,302.2 135.2,300.5 136.1,298.9 C137.0,297.3 138.5,295.7 138.7,294.3 C138.8,292.9 137.7,291.9 137.0,290.5 C136.3,289.0 135.2,287.1 134.5,285.4 C133.7,283.7 133.0,281.6 132.3,280.4 C131.5,279.1 130.6,278.7 129.9,277.8 C129.2,277.0 128.0,276.0 128.2,275.3Z" fill="#ffa200" stroke="#ffa200" stroke-opacity="0.5" stroke-width="1.3"/>
</g></g>
<g clip-path="url(#c42)">
<g>
<rect x="195.7" y="262.0" width="130.10000000000002" height="65.19999999999999" fill="#f3f000"/>
<path d="M255.4,271.4 C255.8,270.9 256.8,270.1 259.3,269.8 C261.8,269.4 266.2,269.4 270.3,269.4 C274.3,269.4 279.5,269.9 283.7,269.8 C287.9,269.6 292.1,268.7 295.5,268.6 C298.9,268.5 301.7,268.6 303.9,269.1 C306.1,269.6 307.6,270.4 308.6,271.4 C309.7,272.5 310.2,274.1 310.3,275.3 C310.4,276.5 310.2,277.7 309.3,278.7 C308.4,279.7 306.5,280.4 304.8,281.2 C303.0,282.0 300.6,282.7 298.9,283.7 C297.1,284.7 295.4,285.7 294.2,287.1 C292.9,288.5 291.8,290.3 291.3,292.1 C290.8,294.0 290.9,296.2 291.3,298.0 C291.7,299.9 292.6,301.7 293.8,303.1 C295.1,304.5 296.9,305.5 298.9,306.5 C300.8,307.4 303.8,308.0 305.6,309.0 C307.4,310.0 309.1,311.1 309.8,312.3 C310.5,313.6 310.4,315.1 309.8,316.2 C309.3,317.3 308.3,318.5 306.4,319.1 C304.6,319.7 303.5,319.9 298.9,319.9 C294.2,319.9 284.8,319.4 278.7,319.1 C272.5,318.8 265.5,318.7 261.8,318.2 C258.2,317.8 257.3,317.2 256.8,316.6 C256.3,315.9 257.5,315.2 258.8,314.5 C260.1,313.8 262.6,313.3 264.4,312.3 C266.1,311.4 268.0,310.4 269.4,309.0 C270.8,307.6 272.0,305.6 272.8,303.9 C273.5,302.2 273.3,300.6 274.0,298.9 C274.6,297.2 276.6,295.5 276.6,293.8 C276.6,292.1 274.7,290.6 274.0,288.8 C273.2,287.0 272.8,284.6 271.9,282.9 C271.0,281.2 270.1,279.9 268.6,278.7 C267.0,277.4 264.6,276.3 262.7,275.3 C260.8,274.3 258.3,273.4 257.1,272.8 C255.9,272.1 255.1,271.9 255.4,271.4Z" fill="#ffa200" stroke="#ffa200" stroke-opacity="0.5" stroke-width="1.3"/>
</g></g>
<g clip-path="url(#c43)">
<g>
<rect x="332.1" y="262.7" width="130.89999999999998" height="65.0" fill="#f3f000"/>
<path d="M390.9,271.4 C391.3,270.9 391.9,269.9 395.1,269.4 C398.3,268.9 404.1,268.9 410.3,268.6 C416.4,268.3 426.0,267.9 432.1,267.7 C438.3,267.6 443.9,267.4 447.3,267.7 C450.7,268.1 451.1,268.6 452.3,269.8 C453.6,270.9 454.4,272.7 454.9,274.5 C455.4,276.2 455.8,279.0 455.4,280.4 C454.9,281.8 454.2,282.2 452.3,282.9 C450.4,283.5 446.4,283.7 443.9,284.2 C441.4,284.8 439.0,285.1 437.2,286.3 C435.4,287.4 433.8,289.3 433.0,291.3 C432.2,293.3 432.2,296.1 432.5,298.0 C432.8,300.0 433.3,301.8 434.7,303.1 C436.0,304.4 437.9,305.0 440.6,305.6 C443.2,306.2 448.3,306.2 450.7,306.8 C453.0,307.4 454.0,307.6 454.9,309.0 C455.7,310.3 456.0,313.0 455.7,314.9 C455.4,316.7 454.4,318.7 453.2,319.9 C451.9,321.2 451.6,322.0 448.1,322.4 C444.6,322.9 438.5,322.5 432.1,322.4 C425.8,322.4 416.4,322.2 410.3,321.9 C404.1,321.7 398.2,321.2 395.1,320.8 C392.0,320.3 391.1,319.8 391.4,319.1 C391.7,318.3 394.6,317.3 396.8,316.2 C398.9,315.1 402.1,313.7 404.4,312.3 C406.6,311.0 408.8,309.8 410.3,308.1 C411.7,306.5 411.8,304.4 412.8,302.2 C413.8,300.1 416.0,297.6 416.1,295.5 C416.3,293.4 414.5,291.7 413.6,289.6 C412.8,287.5 412.4,284.8 411.1,282.9 C409.8,280.9 408.0,279.2 406.0,277.8 C404.1,276.4 401.6,275.4 399.3,274.5 C397.1,273.6 394.0,273.0 392.6,272.4 C391.2,271.9 390.5,271.9 390.9,271.4Z" fill="#ffa200" stroke="#ffa200" stroke-opacity="0.5" stroke-width="1.3"/>
</g></g>
<line x1="54.05" y1="8.2" x2="467.9" y2="8.2" stroke="#202020" stroke-width="1.05" fill="none"/>
<line x1="54.55" y1="32.7" x2="467.4" y2="32.7" stroke="#202020" stroke-width="1.05" fill="none"/>
<line x1="6.05" y1="57.45" x2="467.4" y2="57.45" stroke="#202020" stroke-width="1.05" fill="none"/>
<line x1="30.6" y1="125.25" x2="467.4" y2="125.25" stroke="#202020" stroke-width="1.05" fill="none"/>
<line x1="30.6" y1="193.0" x2="467.4" y2="193.0" stroke="#202020" stroke-width="1.05" fill="none"/>
<line x1="30.6" y1="260.9" x2="467.4" y2="260.9" stroke="#202020" stroke-width="1.05" fill="none"/>
<line x1="30.6" y1="328.5" x2="467.4" y2="328.5" stroke="#202020" stroke-width="1.05" fill="none"/>
<line x1="6.05" y1="396.4" x2="467.9" y2="396.4" stroke="#202020" stroke-width="1.05" fill="none"/>
<line x1="6.55" y1="57.45" x2="6.55" y2="396.4" stroke="#202020" stroke-width="1.05" fill="none"/>
<line x1="30.6" y1="57.45" x2="30.6" y2="396.4" stroke="#202020" stroke-width="1.05" fill="none"/>
<line x1="54.55" y1="8.2" x2="54.55" y2="396.4" stroke="#202020" stroke-width="1.05" fill="none"/>
<line x1="192.45" y1="32.7" x2="192.45" y2="396.4" stroke="#202020" stroke-width="1.05" fill="none"/>
<line x1="330.05" y1="32.7" x2="330.05" y2="396.4" stroke="#202020" stroke-width="1.05" fill="none"/>
<line x1="467.4" y1="8.2" x2="467.4" y2="396.4" stroke="#202020" stroke-width="1.05" fill="none"/>
<text x="261.5" y="25.6" font-size="15.3" text-anchor="middle">Injection temperature</text>
<text x="123.7" y="50.1" font-size="12.3" text-anchor="middle">150°C</text>
<text x="261.6" y="50.1" font-size="12.3" text-anchor="middle">170°C</text>
<text x="399.0" y="50.1" font-size="12.3" text-anchor="middle">190°C</text>
<text transform="translate(22.8,225.2) rotate(-90)" font-size="15.3" text-anchor="middle">Section</text>
<text transform="translate(46.5,91.5) rotate(-90)" font-size="12" text-anchor="middle">Top surface</text>
<text x="42.5" y="163.8" font-size="13" text-anchor="middle">A</text>
<text x="42.6" y="231.2" font-size="13" text-anchor="middle">B</text>
<text x="41.4" y="299.5" font-size="13" text-anchor="middle">C</text>
<text transform="translate(46,362.4) rotate(-90)" font-size="10.5" text-anchor="middle">Bottom surface</text>
<text class="b" x="474.2" y="28">Packing_Powder</text>
<text class="b" x="474.2" y="40.3">Concentration</text>
<text class="b" x="474.2" y="52.6">[%]</text>
<rect x="476.2" y="64" width="10.6" height="237" fill="url(#cb)" stroke="#1c1c8c" stroke-width="0.6"/>
<line x1="476.0" y1="63.90" x2="487.2" y2="63.90" stroke="#14286e" stroke-width="1"/>
<text class="b" style="font-size:10.3px" x="490.3" y="67.75">61.900</text>
<line x1="476.0" y1="83.68" x2="487.2" y2="83.68" stroke="#14286e" stroke-width="1"/>
<text class="b" style="font-size:10.3px" x="490.3" y="87.45">61.742</text>
<line x1="476.0" y1="103.46" x2="487.2" y2="103.46" stroke="#14286e" stroke-width="1"/>
<text class="b" style="font-size:10.3px" x="490.3" y="107.15">61.583</text>
<line x1="476.0" y1="123.24" x2="487.2" y2="123.24" stroke="#14286e" stroke-width="1"/>
<text class="b" style="font-size:10.3px" x="490.3" y="126.85">61.425</text>
<line x1="476.0" y1="143.02" x2="487.2" y2="143.02" stroke="#14286e" stroke-width="1"/>
<text class="b" style="font-size:10.3px" x="490.3" y="146.55">61.267</text>
<line x1="476.0" y1="162.80" x2="487.2" y2="162.80" stroke="#14286e" stroke-width="1"/>
<text class="b" style="font-size:10.3px" x="490.3" y="166.25">61.108</text>
<line x1="476.0" y1="182.58" x2="487.2" y2="182.58" stroke="#14286e" stroke-width="1"/>
<text class="b" style="font-size:10.3px" x="490.3" y="185.95">60.950</text>
<line x1="476.0" y1="202.36" x2="487.2" y2="202.36" stroke="#14286e" stroke-width="1"/>
<text class="b" style="font-size:10.3px" x="490.3" y="205.65">60.792</text>
<line x1="476.0" y1="222.14" x2="487.2" y2="222.14" stroke="#14286e" stroke-width="1"/>
<text class="b" style="font-size:10.3px" x="490.3" y="225.35">60.633</text>
<line x1="476.0" y1="241.92" x2="487.2" y2="241.92" stroke="#14286e" stroke-width="1"/>
<text class="b" style="font-size:10.3px" x="490.3" y="245.05">60.475</text>
<line x1="476.0" y1="261.70" x2="487.2" y2="261.70" stroke="#14286e" stroke-width="1"/>
<text class="b" style="font-size:10.3px" x="490.3" y="264.75">60.317</text>
<line x1="476.0" y1="281.48" x2="487.2" y2="281.48" stroke="#14286e" stroke-width="1"/>
<text class="b" style="font-size:10.3px" x="490.3" y="284.45">60.158</text>
<line x1="476.0" y1="301.26" x2="487.2" y2="301.26" stroke="#14286e" stroke-width="1"/>
<text class="b" style="font-size:10.3px" x="490.3" y="304.15">60.000</text>
</svg></body></html>
